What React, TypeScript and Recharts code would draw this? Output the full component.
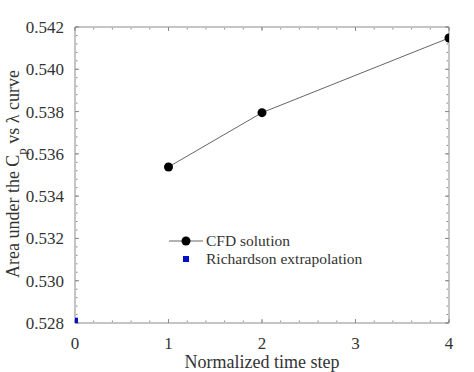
import React from 'react';
import { ComposedChart, Line, Scatter, XAxis, YAxis, Legend } from 'recharts';

// CFD runs at each normalized time step
const timeSteps = [1, 2, 4];
const cfdArea = [0.53538, 0.53795, 0.54148];

// Richardson extrapolated value (time step -> 0)
const richardsonStep = [0];
const richardsonArea = [0.52811];

const xMajorTicks = [0, 1, 2, 3, 4];
const yMajorTicks = [0.528, 0.53, 0.532, 0.534, 0.536, 0.538, 0.54, 0.542];

// minor tick positions (box-style frame, ticks point inward)
const xMinorTicks = Array.from({ length: 21 }, (_, i) => +(i * 0.2).toFixed(1));
const yMinorTicks = Array.from({ length: 36 }, (_, i) => +(0.528 + i * 0.0004).toFixed(4));

const cfdData = timeSteps.map((x, i) => ({ x, y: cfdArea[i] }));
const richardsonData = richardsonStep.map((x, i) => ({ x, y: richardsonArea[i] }));

const FONT = '"Liberation Serif", "Times New Roman", Times, serif';
const AXIS = '#8a8a8a';
const TEXT = '#333';
const X_DOMAIN: [number, number] = [0, 4];
const Y_DOMAIN: [number, number] = [0.528, 0.542];

const blank = () => '';

const Square = (props: any) => {
  const { cx, cy } = props;
  return <rect x={cx - 3} y={cy - 3} width={6} height={6} fill="#0010c8" />;
};

const LegendBox = () => (
  <svg width={200} height={44} style={{ display: 'block', fontFamily: FONT }}>
    <line x1={1} y1={12} x2={35} y2={12} stroke="#666" strokeWidth={1} />
    <circle cx={18} cy={12} r={4.5} fill="#000" />
    <text x={38} y={17} fontSize={15.5} fill={TEXT} fontFamily={FONT}>CFD solution</text>
    <rect x={15} y={27} width={6} height={6} fill="#0010c8" />
    <text x={38} y={35} fontSize={15.5} fill={TEXT} fontFamily={FONT}>Richardson extrapolation</text>
  </svg>
);

const YTitle = () => (
  <text
    transform="translate(19,174) rotate(-90)"
    textAnchor="middle"
    fontSize={18}
    fontFamily={FONT}
    fill={TEXT}
  >
    Area under the C
    <tspan dy={7} fontSize={13}>p</tspan>
    <tspan dy={-7}> vs λ curve</tspan>
  </text>
);

// invisible series so that the tick-only axes get a scale
const frameLine = (xId: string, yId: string) => (
  <Line
    key={xId + yId}
    xAxisId={xId}
    yAxisId={yId}
    data={cfdData}
    dataKey="y"
    stroke="none"
    dot={false}
    activeDot={false}
    legendType="none"
    isAnimationActive={false}
  />
);

const App: React.FC = () => {
  return (
    <div style={{ position: 'absolute', left: 0, top: 0, background: '#fff' }}>
      <ComposedChart
        width={474}
        height={372}
        margin={{ top: 27, right: 25, left: 0, bottom: 0 }}
        style={{ fontFamily: FONT }}
      >
        {/* labelled axes */}
        <XAxis
          xAxisId="main"
          type="number"
          dataKey="x"
          domain={X_DOMAIN}
          ticks={xMajorTicks}
          allowDataOverflow
          height={49}
          tickLine={false}
          axisLine={{ stroke: AXIS }}
          tickMargin={8}
          tick={{ fill: TEXT, fontSize: 17, fontFamily: FONT }}
          label={{
            value: 'Normalized time step',
            position: 'insideBottom',
            offset: 4,
            fill: TEXT,
            fontSize: 18,
            fontFamily: FONT,
          }}
        />
        <YAxis
          yAxisId="main"
          type="number"
          dataKey="y"
          domain={Y_DOMAIN}
          ticks={yMajorTicks}
          allowDataOverflow
          width={75}
          tickLine={false}
          axisLine={{ stroke: AXIS }}
          tickMargin={5}
          tickFormatter={(v: number) => v.toFixed(3)}
          tick={{ fill: TEXT, fontSize: 17, fontFamily: FONT }}
          label={{ content: YTitle }}
        />

        {/* inward tick marks on all four sides */}
        <XAxis xAxisId="bMaj" type="number" dataKey="x" domain={X_DOMAIN} allowDataOverflow ticks={xMajorTicks} orientation="bottom" mirror height={1} tickSize={4} tickFormatter={blank} axisLine={false} tickLine={{ stroke: AXIS }} />
        <XAxis xAxisId="bMin" type="number" dataKey="x" domain={X_DOMAIN} allowDataOverflow ticks={xMinorTicks} orientation="bottom" mirror height={1} tickSize={1.5} tickFormatter={blank} axisLine={false} tickLine={{ stroke: AXIS }} />
        <XAxis xAxisId="tMaj" type="number" dataKey="x" domain={X_DOMAIN} allowDataOverflow ticks={xMajorTicks} orientation="top" mirror height={1} tickSize={4} tickFormatter={blank} axisLine={{ stroke: AXIS }} tickLine={{ stroke: AXIS }} />
        <XAxis xAxisId="tMin" type="number" dataKey="x" domain={X_DOMAIN} allowDataOverflow ticks={xMinorTicks} orientation="top" mirror height={1} tickSize={1.5} tickFormatter={blank} axisLine={false} tickLine={{ stroke: AXIS }} />
        <YAxis yAxisId="lMaj" type="number" dataKey="y" domain={Y_DOMAIN} allowDataOverflow ticks={yMajorTicks} orientation="left" mirror width={1} tickSize={4} tickFormatter={blank} axisLine={false} tickLine={{ stroke: AXIS }} />
        <YAxis yAxisId="lMin" type="number" dataKey="y" domain={Y_DOMAIN} allowDataOverflow ticks={yMinorTicks} orientation="left" mirror width={1} tickSize={1.5} tickFormatter={blank} axisLine={false} tickLine={{ stroke: AXIS }} />
        <YAxis yAxisId="rMaj" type="number" dataKey="y" domain={Y_DOMAIN} allowDataOverflow ticks={yMajorTicks} orientation="right" mirror width={1} tickSize={4} tickFormatter={blank} axisLine={{ stroke: AXIS }} tickLine={{ stroke: AXIS }} />
        <YAxis yAxisId="rMin" type="number" dataKey="y" domain={Y_DOMAIN} allowDataOverflow ticks={yMinorTicks} orientation="right" mirror width={1} tickSize={1.5} tickFormatter={blank} axisLine={false} tickLine={{ stroke: AXIS }} />

        {frameLine('bMaj', 'lMaj')}
        {frameLine('bMin', 'lMin')}
        {frameLine('tMaj', 'rMaj')}
        {frameLine('tMin', 'rMin')}

        <Line
          xAxisId="main"
          yAxisId="main"
          data={cfdData}
          dataKey="y"
          name="CFD solution"
          stroke="#666"
          strokeWidth={1}
          dot={{ r: 4.5, fill: '#000', stroke: '#000', strokeWidth: 0 }}
          activeDot={false}
          isAnimationActive={false}
        />
        <Scatter
          xAxisId="main"
          yAxisId="main"
          data={richardsonData}
          dataKey="y"
          name="Richardson extrapolation"
          shape={Square}
          isAnimationActive={false}
        />

        <Legend
          layout="vertical"
          align="center"
          verticalAlign="middle"
          content={LegendBox}
          wrapperStyle={{ left: 168, top: 229, width: 200 }}
        />
      </ComposedChart>
    </div>
  );
};

export default App;
